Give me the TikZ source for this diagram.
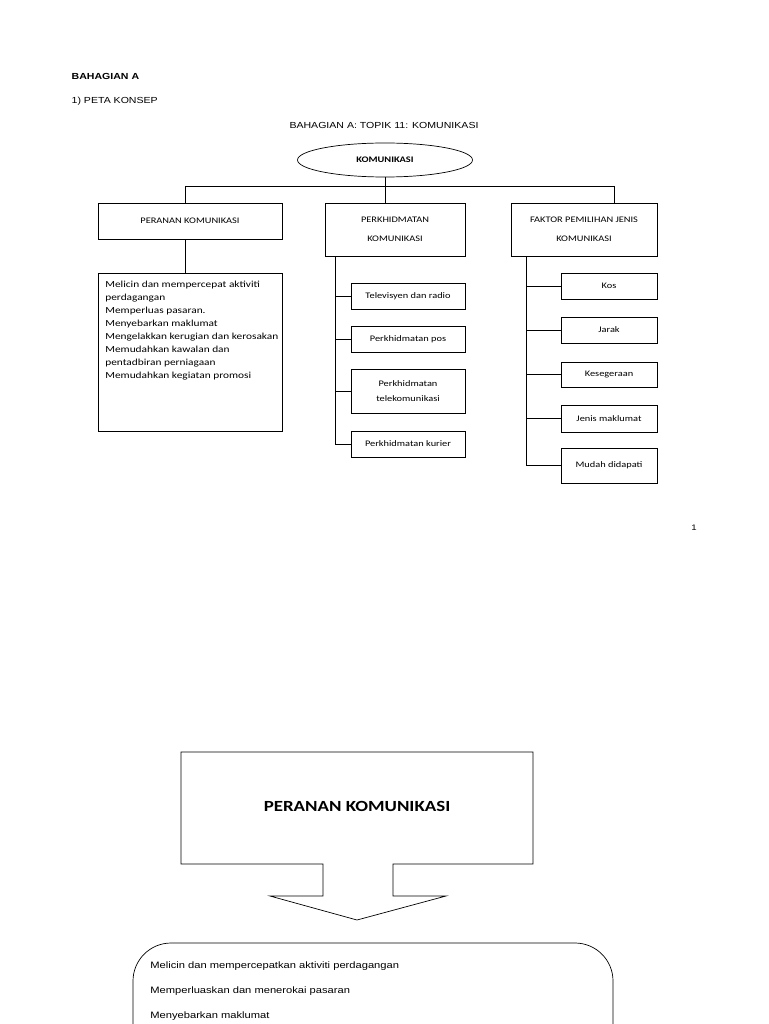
\documentclass[tikz,border=0pt]{standalone}
\usepackage{fontspec}
\setmainfont[FakeStretch=1.2]{Liberation Sans}
\newfontfamily\calib[FakeStretch=1.22]{Carlito}
\usetikzlibrary{shapes.geometric}

\begin{document}
\begin{tikzpicture}[x=1pt, y=-1pt, line width=0.7pt,
    kotak/.style={draw, align=center, inner sep=1pt,
                  font=\calib\fontsize{8.5}{19}\selectfont},
    anak/.style={draw, align=center, inner sep=1pt,
                 minimum width=114pt, minimum height=26pt,
                 font=\calib\fontsize{8.5}{15}\selectfont},
    faktorbox/.style={anak, minimum width=96pt},
    baris/.style={anchor=west, inner sep=0pt, font=\fontsize{9.3}{11}\selectfont},
  ]
    \useasboundingbox (0,0) rectangle (768,1024);
    \fill[white] (0,0) rectangle (768,1024);
    \clip (0,0) rectangle (768,1024);

    % tajuk
    \node[anchor=west, font=\bfseries\fontsize{8.8}{10}\selectfont] (bah) at (68,76) {BAHAGIAN A};
    \node[anchor=west, font=\fontsize{8.8}{10}\selectfont] (peta) at (68,101) {1) PETA KONSEP};
    \node[font=\fontsize{8.8}{10}\selectfont] (topik) at (384,125) {BAHAGIAN A: TOPIK 11: KOMUNIKASI};

    % peta konsep
    \node[draw, ellipse, minimum width=175pt, minimum height=34pt,
          font=\calib\bfseries\fontsize{8.5}{9}\selectfont] (kom) at (385,160) {KOMUNIKASI};
    \node[kotak, minimum width=184pt, minimum height=36pt] (peranan) at (190,221) {PERANAN KOMUNIKASI};
    \node[kotak, minimum width=140pt, minimum height=53pt] (perkh) at (395,229.5) {PERKHIDMATAN\\KOMUNIKASI};
    \node[kotak, minimum width=146pt, minimum height=53pt] (faktor) at (584,229.5) {FAKTOR PEMILIHAN JENIS\\KOMUNIKASI};

    \coordinate (bar) at (385,186);
    \coordinate (bl) at (185,186);
    \coordinate (br) at (614,186);
    \draw (kom.south) -- (bar);
    \draw (bl) -- (br);
    \draw (bl) -- (bl |- peranan.north);
    \draw (bar) -- (bar |- perkh.north);
    \draw (br) -- (br |- faktor.north);

    % peranan
    \node[draw, minimum width=184pt, minimum height=158pt] (senarai) at (190,352) {};
    \node[anchor=north west, align=left, inner sep=0pt,
          font=\calib\fontsize{9.3}{13}\selectfont] (isi) at (105,281)
      {Melicin dan mempercepat aktiviti\\perdagangan\\Memperluas pasaran.\\Menyebarkan maklumat\\
       Mengelakkan kerugian dan kerosakan\\Memudahkan kawalan dan\\pentadbiran perniagaan\\
       Memudahkan kegiatan promosi};
    \draw (bl |- peranan.south) -- (bl |- senarai.north);

    % perkhidmatan
    \node[anak] (tv) at (408,296) {Televisyen dan radio};
    \node[anak] (pos) at (408,339) {Perkhidmatan pos};
    \node[anak, minimum height=44pt] (tele) at (408,391) {Perkhidmatan\\telekomunikasi};
    \node[anak] (kurier) at (408,444) {Perkhidmatan kurier};
    \coordinate (s2) at (335,256);
    \draw (s2) -- (s2 |- kurier.west);
    \foreach \n in {tv,pos,tele,kurier}
      \draw (s2 |- \n.west) -- (\n.west);

    % faktor
    \node[faktorbox] (kos) at (609,286) {Kos};
    \node[faktorbox] (jarak) at (609,330) {Jarak};
    \node[faktorbox, minimum height=25pt] (segera) at (609,374.5) {Kesegeraan};
    \node[faktorbox, minimum height=27pt] (jenis) at (609,418.5) {Jenis maklumat};
    \node[faktorbox, minimum height=35pt] (mudah) at (609,465.5) {Mudah didapati};
    \coordinate (s3) at (526,256);
    \draw (s3) -- (s3 |- mudah.west);
    \foreach \n in {kos,jarak,segera,jenis,mudah}
      \draw (s3 |- \n.west) -- (\n.west);

    \node[font=\fontsize{8}{9}\selectfont] (hal) at (694,528) {1};

    % halaman 2
    \draw (181,752) -- (533,752) -- (533,864) -- (393,864) -- (393,896) -- (446,896)
      -- (357,920) -- (270,896) -- (323,896) -- (323,864) -- (181,864) -- cycle;
    \node[font=\calib\bfseries\fontsize{15.5}{18}\selectfont] (judul) at (357,806) {PERANAN KOMUNIKASI};

    \draw[rounded corners=38pt] (133,943) rectangle (613,1110);
    \node[baris] (b1) at (150,966) {Melicin dan mempercepatkan aktiviti perdagangan};
    \node[baris] (b2) at (150,991) {Memperluaskan dan menerokai pasaran};
    \node[baris] (b3) at (150,1016) {Menyebarkan maklumat};
  \end{tikzpicture}
\end{document}
